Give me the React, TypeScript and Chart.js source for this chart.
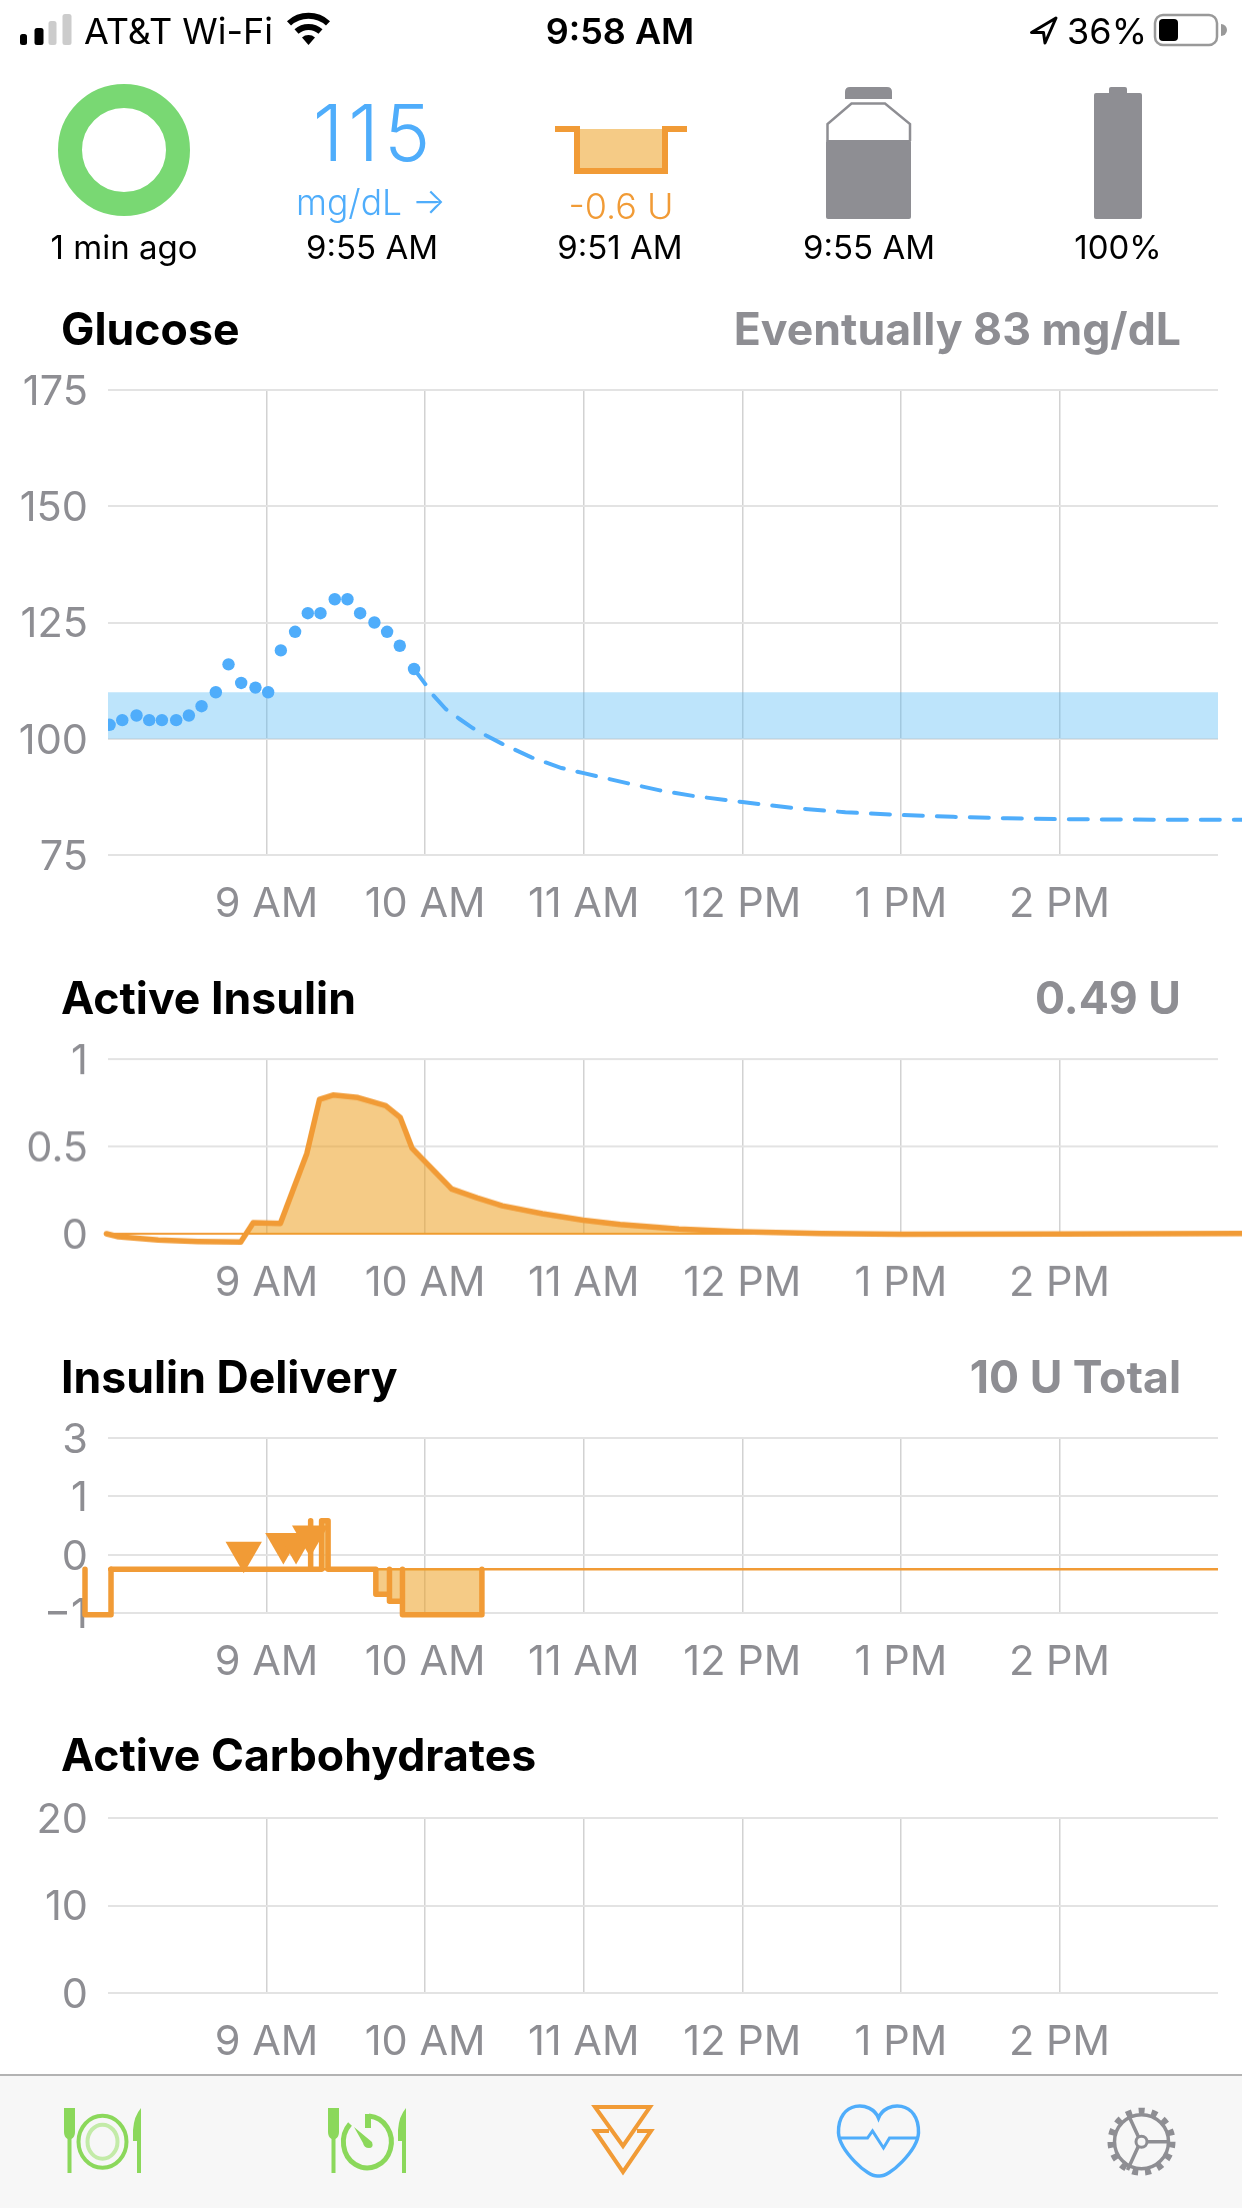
import { useEffect, useRef } from "react";
import { Chart, registerables } from "chart.js";

Chart.register(...registerables);

const FONT = "Inter";
const BLUE = "#4fadfb";
const ORANGE = "#f19b36";
const ORANGE_FILL = "rgba(237,160,35,0.55)";
const BAND_FILL = "rgba(81,184,245,0.38)";
const GREY = "#8e8e93";
const GREEN = "#8bd85b";

const hourTicks = [9, 10, 11, 12, 13, 14];
const hourLabels = ["9 AM", "10 AM", "11 AM", "12 PM", "1 PM", "2 PM"];

const glucoseTicks = [75, 100, 125, 150, 175];
const glucoseLabels = ["75", "100", "125", "150", "175"];
const glucoseHours = [8.01, 8.09, 8.18, 8.26, 8.34, 8.43, 8.51, 8.59, 8.68, 8.76, 8.84, 8.93, 9.01, 9.09, 9.18, 9.26, 9.34, 9.43, 9.51, 9.59, 9.68, 9.76, 9.84, 9.93];
const glucoseValues = [103, 104, 105, 104, 104, 104, 105, 107, 110, 116, 112, 111, 110, 119, 123, 127, 127, 130, 130, 127, 125, 123, 120, 115];
const predictedHours = [9.93, 10.0, 10.05, 10.13, 10.215, 10.3, 10.385, 10.486, 10.67, 10.86, 11.0, 11.28, 11.48, 11.69, 12.0, 12.32, 12.65, 13.0, 13.33, 13.67, 14.0, 14.59, 15.155];
const predictedValues = [115, 111.8, 109.4, 106.4, 104.3, 102.3, 100.7, 98.9, 96, 93.7, 92.6, 90.4, 88.9, 87.7, 86.4, 85.1, 84.2, 83.6, 83.2, 82.9, 82.7, 82.6, 82.6];
const rangeHours = [8, 15];
const rangeHigh = [110, 110];
const rangeLow = 100;

const insulinTicks = [0, 0.5, 1];
const insulinLabels = ["0", "0.5", "1"];
const insulinHours = [7.99, 8.067, 8.317, 8.567, 8.837, 8.916, 9.087, 9.254, 9.334, 9.419, 9.576, 9.751, 9.843, 9.918, 10.167, 10.33, 10.486, 10.74, 10.997, 11.23, 11.6, 12.0, 12.5, 13.0, 14.0, 15.155];
const insulinValues = [0, -0.017, -0.036, -0.044, -0.048, 0.063, 0.059, 0.46, 0.769, 0.794, 0.78, 0.733, 0.666, 0.489, 0.256, 0.205, 0.16, 0.115, 0.078, 0.053, 0.027, 0.012, 0.002, -0.003, -0.002, 0.002];
const insulinZeroHours = [8, 15];
const insulinZero = [0, 0];

const deliveryTicks = [-1, 0, 1, 2];
const deliveryLabels = ["−1", "0", "1", "3"];
const deliveryBase = -0.25;
const basalEdgeHours = [8.019, 8.019, 7.855, 7.855];
const basalEdgeValues = [-0.25, -1.03, -1.03, -0.25];
const deliveryHours = [8.019, 9.278, 9.278, 9.278, 9.347, 9.347, 9.388, 9.388, 9.689, 9.689, 9.775, 9.775, 9.775, 9.857, 9.857, 9.857, 10.358, 10.358];
const deliveryValues = [-0.25, -0.25, 0.58, -0.25, -0.25, 0.58, 0.58, -0.25, -0.25, -0.68, -0.68, -0.25, -0.8, -0.8, -0.25, -1.03, -1.03, -0.25];
const baseHours = [8, 15];
const baseValues = [deliveryBase, deliveryBase];
const bolusHours = [8.856, 9.106, 9.186, 9.275];
const bolusValues = [0.04, 0.19, 0.19, 0.32];

const carbTicks = [0, 10, 20];
const carbLabels = ["0", "10", "20"];

const xy = (xs: number[], ys: number[]) => xs.map((x, i) => ({ x, y: ys[i] }));

const glucoseDatasets = [
  { data: xy(glucoseHours, glucoseValues), showLine: false, pointRadius: 6.2, pointBackgroundColor: BLUE, pointBorderWidth: 0, clip: 0 },
  { data: xy(predictedHours, predictedValues), borderColor: BLUE, borderWidth: 4, borderDash: [19, 14], borderCapStyle: "round", pointRadius: 0, clip: false },
  { data: xy(rangeHours, rangeHigh), borderWidth: 0, pointRadius: 0, backgroundColor: BAND_FILL, fill: { value: rangeLow } },
];

const insulinDatasets = [
  { data: xy(insulinHours, insulinValues), borderColor: ORANGE, borderWidth: 5.5, borderCapStyle: "round", borderJoinStyle: "round", pointRadius: 0, backgroundColor: ORANGE_FILL, fill: "origin", clip: false },
  { data: xy(insulinZeroHours, insulinZero), borderColor: ORANGE, borderWidth: 2, pointRadius: 0, clip: false },
];

const deliveryDatasets = [
  { data: xy(bolusHours, bolusValues), showLine: false, pointStyle: "triangle", rotation: 180, pointRadius: 21, pointBackgroundColor: ORANGE, pointBorderWidth: 0, clip: false },
  { data: xy(basalEdgeHours, basalEdgeValues), borderColor: ORANGE, borderWidth: 5.5, borderCapStyle: "round", borderJoinStyle: "round", pointRadius: 0, clip: false },
  { data: xy(deliveryHours, deliveryValues), borderColor: ORANGE, borderWidth: 5.5, borderCapStyle: "round", borderJoinStyle: "round", pointRadius: 0, backgroundColor: ORANGE_FILL, fill: { value: deliveryBase }, clip: false },
  { data: xy(baseHours, baseValues), borderColor: ORANGE, borderWidth: 2.5, pointRadius: 0, clip: false },
];

interface PanelProps {
  plotTop: number;
  plotBottom: number;
  yTicks: number[];
  yLabels: string[];
  datasets: any[];
}

function Panel({ plotTop, plotBottom, yTicks, yLabels, datasets }: PanelProps) {
  const canvasRef = useRef<HTMLCanvasElement>(null);
  const padTop = 30;
  const axisHeight = 80;
  const height = plotBottom - plotTop + padTop + axisHeight;

  useEffect(() => {
    if (!canvasRef.current) return;
    const tickFont = { family: FONT, size: 41.5, weight: "normal" as const };
    const chart = new Chart(canvasRef.current, {
      type: "line",
      data: { datasets },
      options: {
        responsive: false,
        animation: false,
        devicePixelRatio: 1,
        layout: { padding: { top: padTop, right: 24, left: 0, bottom: 0 } },
        plugins: { legend: { display: false }, tooltip: { enabled: false } },
        scales: {
          x: {
            type: "linear",
            min: 8,
            max: 15,
            afterBuildTicks: (axis: any) => { axis.ticks = hourTicks.map((value) => ({ value })); },
            afterFit: (axis: any) => { axis.height = axisHeight; },
            border: { display: false },
            grid: { color: "#d2d2d2", lineWidth: 1.5, drawTicks: false },
            ticks: {
              autoSkip: false,
              maxRotation: 0,
              padding: 25,
              color: GREY,
              font: tickFont,
              callback: (value: any) => hourLabels[hourTicks.indexOf(value)],
            },
          },
          y: {
            type: "linear",
            min: yTicks[0],
            max: yTicks[yTicks.length - 1],
            afterBuildTicks: (axis: any) => { axis.ticks = yTicks.map((value) => ({ value })); },
            afterFit: (axis: any) => { axis.width = 108; axis.paddingTop = 0; axis.paddingBottom = 0; },
            border: { display: false },
            grid: { color: "#e3e3e3", lineWidth: 2, drawTicks: false },
            ticks: {
              padding: 20,
              labelOffset: 2.5,
              color: GREY,
              font: tickFont,
              callback: (value: any) => yLabels[yTicks.indexOf(value)],
            },
          },
        },
      },
    });
    return () => { chart.destroy(); };
  }, []);

  return (
    <canvas
      ref={canvasRef}
      width={1242}
      height={height}
      style={{ position: "absolute", left: 0, top: plotTop - padTop, width: 1242, height }}
    />
  );
}

interface LabelProps {
  x: number;
  y: number;
  size: number;
  color?: string;
  weight?: number;
  anchor?: "start" | "middle" | "end";
  spacing?: number;
  children: string;
}

// y is the text baseline
function Label({ x, y, size, color = "#000", weight = 400, anchor = "start", spacing = 0, children }: LabelProps) {
  const shift = anchor === "middle" ? "-50%" : anchor === "end" ? "-100%" : "0";
  return (
    <div
      style={{
        position: "absolute",
        left: x,
        top: y - 0.864 * size,
        fontFamily: FONT,
        fontSize: size,
        fontWeight: weight,
        lineHeight: `${size}px`,
        letterSpacing: spacing,
        color,
        whiteSpace: "nowrap",
        transform: `translateX(${shift})`,
      }}
    >
      {children}
    </div>
  );
}

function Icons() {
  return (
    <svg width={1242} height={2208} style={{ position: "absolute", left: 0, top: 0 }}>
      {/* status bar */}
      <rect x={20} y={34} width={7} height={11} rx={2.5} fill="#000" />
      <rect x={34.5} y={28} width={9} height={17} rx={2.5} fill="#000" />
      <rect x={48.5} y={21} width={8} height={24} rx={2.5} fill="#ccc" />
      <rect x={62.5} y={14} width={9} height={31} rx={2.5} fill="#ccc" />
      <path d="M289,23.4 A29,29 0 0 1 328,23.4" fill="none" stroke="#000" strokeWidth={6} />
      <path d="M296.5,31.6 A18,18 0 0 1 320.5,31.6" fill="none" stroke="#000" strokeWidth={6} />
      <path d="M308.5,45 L302,37.5 A10,10 0 0 1 315,37.5 Z" fill="#000" />
      <g transform="translate(-7,0)">
        <path d="M1063,18 L1038.5,32.5 L1050.5,32.5 L1052,43 Z" fill="none" stroke="#000" strokeWidth={3} strokeLinejoin="round" />
        <rect x={1162} y={15} width={62} height={30} rx={8} fill="none" stroke="#999" strokeWidth={2.5} />
        <rect x={1166} y={19} width={19} height={22} rx={4} fill="#000" />
        <path d="M1228,24 A6,6 0 0 1 1228,36 Z" fill="#999" />
      </g>

      {/* loop ring */}
      <circle cx={124} cy={150} r={54} fill="none" stroke="#79d873" strokeWidth={24} />

      {/* reservoir */}
      <g transform="translate(-3,0)">
        <rect x={580} y={129} width={88} height={42} fill="#f5cb86" />
        <path d="M558,129 H580 V171 H668 V129 H690" fill="none" stroke={ORANGE} strokeWidth={6} />
      </g>

      {/* bottle */}
      <g transform="translate(-5,0)">
        <path d="M850,99 V92 Q850,87 855,87 H892 Q897,87 897,92 V99 Z" fill={GREY} />
        <path d="M832.5,141 V124 L856.5,103.5 H890 L915,124 V141" fill="none" stroke={GREY} strokeWidth={2.5} />
        <rect x={831} y={140} width={85} height={79} rx={2} fill={GREY} />
      </g>

      {/* pump battery */}
      <g transform="translate(-6,0)">
        <rect x={1115} y={87} width={18} height={8} rx={2} fill={GREY} />
        <rect x={1100} y={93} width={48} height={126} rx={2} fill={GREY} />
      </g>

      {/* tab bar */}
      <rect x={0} y={2075} width={1242} height={133} fill="#f7f7f7" />
      <rect x={0} y={2074} width={1242} height={2} fill="#b3b3b3" />

      {/* carb entry */}
      <g transform="translate(-1,0)">
        <path d="M65,2108 H76 V2132 Q76,2137 72.5,2139 V2173 H68.5 V2139 Q65,2137 65,2132 Z" fill={GREEN} />
        <ellipse cx={103.5} cy={2141.7} rx={24} ry={26} fill="none" stroke={GREEN} strokeWidth={4} />
        <ellipse cx={103.5} cy={2141.7} rx={15} ry={17} fill="none" stroke="#c3eba8" strokeWidth={4} />
        <path d="M142,2108 V2173 H138 V2141 H134 V2130 Q135,2116 142,2108 Z" fill={GREEN} />
      </g>

      {/* bolus wizard */}
      <g transform="translate(-2,0)">
        <path d="M330,2108 H341 V2132 Q341,2137 337.5,2139 V2173 H333.5 V2139 Q330,2137 330,2132 Z" fill={GREEN} />
        <path d="M371,2116 A24,26 0 1 1 352,2124" fill="none" stroke={GREEN} strokeWidth={5} />
        <path d="M356,2127 L374,2142 Q376,2148 371,2148 Q366,2148 365,2143 Z" fill={GREEN} />
        <rect x={367} y={2114} width={6} height={14} fill={GREEN} />
        <path d="M408,2108 V2173 H404 V2141 H400 V2130 Q401,2116 408,2108 Z" fill={GREEN} />
      </g>

      {/* bolus */}
      <g transform="translate(-3,0)">
        <path d="M598,2107 H653 L626,2146 Z" fill="none" stroke={ORANGE} strokeWidth={4} />
        <path d="M612,2131 H598 L626,2172 L654,2131 H640" fill="none" stroke={ORANGE} strokeWidth={4} />
      </g>

      {/* health */}
      <g transform="translate(-4.5,0)">
        <path d="M883,2118 C876,2100 842,2100 843,2133 C844,2150 872,2178 883,2176 C894,2178 922,2150 923,2133 C924,2100 890,2100 883,2118 Z" fill="none" stroke={BLUE} strokeWidth={3.5} />
        <path d="M845,2138 H872 L877,2131 L888,2148 L894,2138 H922" fill="none" stroke={BLUE} strokeWidth={3} />
      </g>

      {/* settings */}
      <g transform="translate(-6.5,0)">
        <circle cx={1148} cy={2141.7} r={27} fill="none" stroke={GREY} strokeWidth={3.5} />
        <circle cx={1148} cy={2141.7} r={31} fill="none" stroke={GREY} strokeWidth={6} strokeDasharray="6 7" />
        <circle cx={1148} cy={2141.7} r={5.5} fill="none" stroke={GREY} strokeWidth={3} />
        <path d="M1153,2141.7 H1175 M1145,2137 L1134,2113 M1145,2146 L1134,2170" fill="none" stroke={GREY} strokeWidth={3.5} />
      </g>
    </svg>
  );
}

export default function App() {
  return (
    <div style={{ position: "absolute", left: 0, top: 0, width: 1242, height: 2208, overflow: "hidden", background: "#fff" }}>
      <Panel plotTop={390} plotBottom={855} yTicks={glucoseTicks} yLabels={glucoseLabels} datasets={glucoseDatasets} />
      <Panel plotTop={1059} plotBottom={1233.7} yTicks={insulinTicks} yLabels={insulinLabels} datasets={insulinDatasets} />
      <Panel plotTop={1438} plotBottom={1613} yTicks={deliveryTicks} yLabels={deliveryLabels} datasets={deliveryDatasets} />
      <Panel plotTop={1817.7} plotBottom={1992.7} yTicks={carbTicks} yLabels={carbLabels} datasets={[]} />
      <Icons />

      <Label x={84} y={44} size={36}>AT&amp;T Wi-Fi</Label>
      <Label x={620} y={44} size={36} weight={600} anchor="middle">9:58 AM</Label>
      <Label x={1147} y={44} size={36} anchor="end">36%</Label>

      <Label x={124} y={260} size={33} anchor="middle">1 min ago</Label>
      <Label x={374} y={161} size={78} weight={300} color={BLUE} spacing={5} anchor="middle">115</Label>
      <Label x={371} y={215.5} size={35.5} weight={300} color={BLUE} anchor="middle">mg/dL →</Label>
      <Label x={372} y={260} size={33} anchor="middle">9:55 AM</Label>
      <Label x={621} y={219.5} size={36} weight={300} color={ORANGE} anchor="middle">-0.6 U</Label>
      <Label x={620} y={260} size={33} anchor="middle">9:51 AM</Label>
      <Label x={869} y={260} size={33} anchor="middle">9:55 AM</Label>
      <Label x={1118} y={260} size={33} anchor="middle">100%</Label>

      <Label x={61} y={345.5} size={44.6} weight={700}>Glucose</Label>
      <Label x={1181} y={345.5} size={44.6} weight={700} color={GREY} anchor="end">Eventually 83 mg/dL</Label>
      <Label x={61} y={1014.5} size={44.6} weight={700}>Active Insulin</Label>
      <Label x={1181} y={1014.5} size={44.6} weight={700} color={GREY} anchor="end">0.49 U</Label>
      <Label x={61} y={1393.5} size={44.6} weight={700}>Insulin Delivery</Label>
      <Label x={1181} y={1393.5} size={44.6} weight={700} color={GREY} anchor="end">10 U Total</Label>
      <Label x={61} y={1771.5} size={44.6} weight={700}>Active Carbohydrates</Label>
    </div>
  );
}
